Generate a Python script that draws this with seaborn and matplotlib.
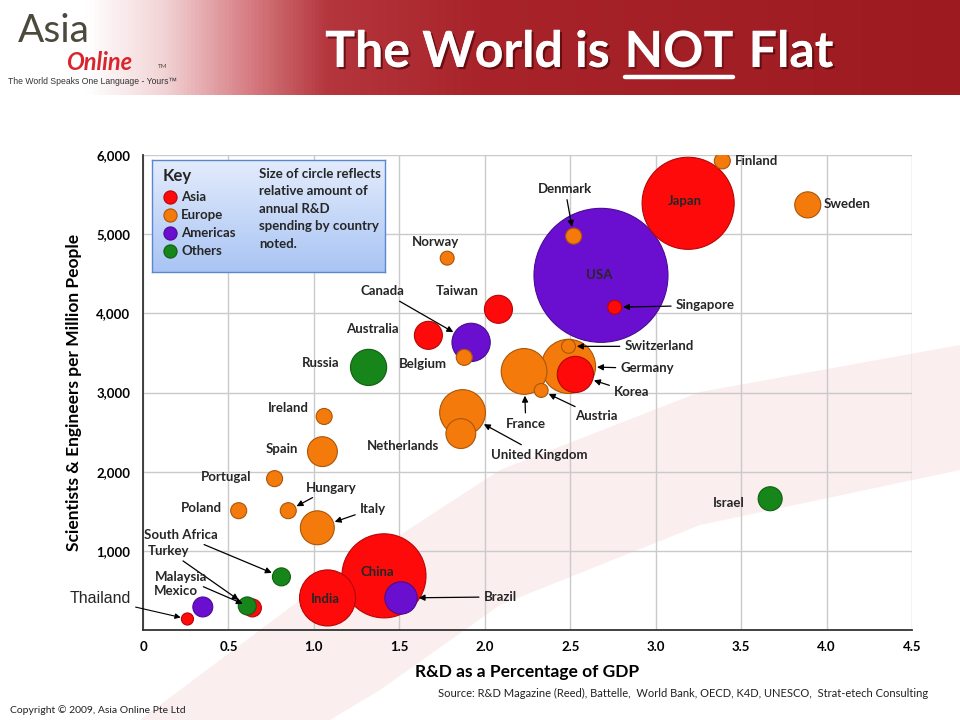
import matplotlib
matplotlib.use("Agg")
import matplotlib.pyplot as plt
import matplotlib.patheffects as pe
import numpy as np
import pandas as pd
import seaborn as sns
from matplotlib.colors import LinearSegmentedColormap
from matplotlib.lines import Line2D
from matplotlib.patches import Polygon

# ---- data ----
countries = ["USA", "Japan", "China", "India", "Germany", "France", "United Kingdom",
             "Canada", "Korea", "Russia", "Italy", "Brazil", "Netherlands", "Spain",
             "Taiwan", "Australia", "Sweden", "Israel", "Mexico", "Malaysia", "Turkey",
             "South Africa", "Finland", "Denmark", "Belgium", "Ireland", "Portugal",
             "Hungary", "Poland", "Singapore", "Switzerland", "Austria", "Norway", "Thailand"]
regions = ["Americas", "Asia", "Asia", "Asia", "Europe", "Europe", "Europe",
           "Americas", "Asia", "Others", "Europe", "Americas", "Europe", "Europe",
           "Asia", "Asia", "Europe", "Others", "Americas", "Asia", "Others",
           "Others", "Europe", "Europe", "Europe", "Europe", "Europe",
           "Europe", "Europe", "Asia", "Europe", "Europe", "Europe", "Asia"]
rd_pct_gdp = [2.68, 3.19, 1.41, 1.08, 2.49, 2.23, 1.87,
              1.92, 2.53, 1.32, 1.02, 1.51, 1.86, 1.05,
              2.08, 1.67, 3.89, 3.67, 0.35, 0.64, 0.61,
              0.81, 3.39, 2.52, 1.88, 1.06, 0.77,
              0.85, 0.56, 2.76, 2.49, 2.33, 1.78, 0.26]
sci_per_million = [4480, 5390, 684, 405, 3330, 3266, 2747,
                   3633, 3228, 3317, 1291, 405, 2481, 2253,
                   4051, 3722, 5370, 1658, 291, 279, 304,
                   671, 5925, 4975, 3444, 2697, 1912,
                   1507, 1507, 4077, 3583, 3026, 4697, 139]
rd_spend = [343, 162, 135, 60, 56, 40, 40,
            28, 25, 25, 22, 20, 17, 17,
            15, 15, 13, 11, 7.6, 6.2, 6.2,
            6.2, 4.9, 4.9, 4.9, 4.9, 4.9,
            4.9, 4.9, 3.7, 3.7, 3.7, 3.7, 2.8]

region_names = ["Asia", "Europe", "Americas", "Others"]
region_colors = ["#ff0a0a", "#f57a0c", "#6a0fd0", "#17861a"]

x_ticks = [0, 0.5, 1.0, 1.5, 2.0, 2.5, 3.0, 3.5, 4.0, 4.5]
y_ticks = [1000, 2000, 3000, 4000, 5000, 6000]

# label layout: (country, text, x, y, arrow)
LABELS = [
    ("Finland", "Finland", 3.59, 5925, False),
    ("Sweden", "Sweden", 4.12, 5380, False),
    ("Japan", "Japan", 3.17, 5420, False),
    ("USA", "USA", 2.67, 4482, False),
    ("Denmark", "Denmark", 2.47, 5570, True),
    ("Singapore", "Singapore", 3.29, 4100, True),
    ("Norway", "Norway", 1.71, 4899, False),
    ("Taiwan", "Taiwan", 1.84, 4279, False),
    ("Canada", "Canada", 1.40, 4279, True),
    ("Australia", "Australia", 1.345, 3798, False),
    ("Belgium", "Belgium", 1.64, 3355, False),
    ("Russia", "Russia", 1.04, 3368, False),
    ("Switzerland", "Switzerland", 3.02, 3583, True),
    ("Germany", "Germany", 2.95, 3304, True),
    ("Korea", "Korea", 2.86, 3000, True),
    ("Austria", "Austria", 2.65, 2697, True),
    ("France", "France", 2.24, 2608, True),
    ("United Kingdom", "United Kingdom", 2.32, 2215, True),
    ("Netherlands", "Netherlands", 1.52, 2329, False),
    ("Ireland", "Ireland", 0.85, 2798, False),
    ("Spain", "Spain", 0.81, 2291, False),
    ("Portugal", "Portugal", 0.485, 1937, False),
    ("Hungary", "Hungary", 1.10, 1798, True),
    ("Poland", "Poland", 0.34, 1545, False),
    ("Italy", "Italy", 1.345, 1532, True),
    ("China", "China", 1.37, 734, False),
    ("India", "India", 1.07, 392, False),
    ("Brazil", "Brazil", 2.09, 418, True),
    ("Israel", "Israel", 3.43, 1608, False),
    ("South Africa", "South Africa", 0.22, 1203, True),
    ("Turkey", "Turkey", 0.15, 1000, True),
    ("Malaysia", "Malaysia", 0.22, 671, True),
    ("Mexico", "Mexico", 0.19, 494, False),
]

W, H = 960, 720


def fx(px):
    return px / W


def fy(py):
    return 1 - py / H


sns.set_theme(style="whitegrid")
plt.rcParams["font.family"] = ["Lato", "DejaVu Sans"]

df = pd.DataFrame({"country": countries, "region": regions, "pct": rd_pct_gdp,
                   "sci": sci_per_million, "spend": rd_spend})
palette = dict(zip(region_names, region_colors))

fig = plt.figure(figsize=(9.6, 7.2), dpi=100)
fig.patch.set_facecolor("white")

# faint background swoosh, kept behind the axes
band = [(140, 720), (300, 600), (500, 470), (700, 392), (960, 345),
        (960, 470), (700, 525), (500, 605), (380, 690), (330, 720)]
fig.patches.append(Polygon([(fx(a), fy(b)) for a, b in band], closed=True,
                           transform=fig.transFigure, facecolor="#fbeeee",
                           edgecolor="none", zorder=-5))

# header banner
hdr = fig.add_axes([0, fy(95), 1, 95 / H])
cmap = LinearSegmentedColormap.from_list(
    "hdr", [(0, "#ffffff"), (0.09, "#ffffff"), (0.17, "#f2d3d5"), (0.25, "#d9858a"),
            (0.34, "#b5363d"), (0.5, "#a8242a"), (1, "#9c1a20")])
hdr.imshow(np.linspace(0, 1, 512)[None, :], aspect="auto", cmap=cmap, extent=[0, 1, 0, 1])
hdr.axis("off")

fig.text(fx(18), fy(42), "Asia", fontsize=28, color="#4b4a3c", ha="left", va="baseline")
fig.text(fx(66), fy(70), "Online", fontsize=17, color="#d8262c", style="italic",
         fontweight="bold", ha="left", va="baseline")
fig.text(fx(158), fy(68), "TM", fontsize=4.5, color="#4b4a3c", ha="left", va="baseline")
fig.text(fx(8), fy(84), "The World Speaks One Language - Yours\u2122", fontsize=6.2,
         color="#333333", family=["Liberation Sans", "DejaVu Sans"], ha="left", va="baseline")

shadow = [pe.SimplePatchShadow(offset=(1.5, -1.5), shadow_rgbFace="#4a0508", alpha=0.45),
          pe.Normal()]
t_not = fig.text(fx(679), fy(67), "NOT", fontsize=36, fontweight="bold", color="white",
                 ha="center", va="baseline", path_effects=shadow)
left = plt.annotate("The World is", xy=(0, 0), xycoords=t_not, xytext=(-11, 0),
                    textcoords="offset points", ha="right", va="bottom", fontsize=36,
                    fontweight="bold", color="white", path_effects=shadow,
                    annotation_clip=False)
fig.texts.append(left)
right = plt.annotate("Flat", xy=(1, 0), xycoords=t_not, xytext=(11, 0),
                     textcoords="offset points", ha="left", va="bottom", fontsize=36,
                     fontweight="bold", color="white", path_effects=shadow,
                     annotation_clip=False)
fig.texts.append(right)

# main plot
ax = fig.add_axes([fx(143), fy(630), (912 - 143) / W, (630 - 155) / H])
ax.set_facecolor("none")
s_max = (2 * 67 * 0.72) ** 2
sns.scatterplot(data=df, x="pct", y="sci", hue="region", hue_order=region_names,
                palette=palette, size="spend", sizes=(0, s_max), size_norm=(0, max(rd_spend)),
                legend=False, linewidth=0.8, zorder=3, ax=ax)
coll = ax.collections[0]
fc = coll.get_facecolors()
ec = fc.copy()
ec[:, :3] *= 0.7
coll.set_edgecolors(ec)

ax.set_xlim(0, 4.5)
ax.set_ylim(0, 6000)
ax.set_xticks(x_ticks)
ax.set_xticklabels(["0"] + [f"{v:.1f}" for v in x_ticks[1:]])
ax.set_yticks(y_ticks)
ax.set_yticklabels([f"{v:,}" for v in y_ticks])
ax.grid(True, color="#cacaca", lw=1)
for side in ["top", "right"]:
    ax.spines[side].set_visible(False)
for side in ["left", "bottom"]:
    ax.spines[side].set_color("#333333")
    ax.spines[side].set_linewidth(1.3)
    ax.spines[side].set_zorder(2.5)
ax.tick_params(axis="y", direction="out", length=6, width=1, color="#bdbdbd",
               labelsize=9.5, pad=3)
ax.tick_params(axis="x", length=0, labelsize=9.5, pad=8)
for lab in ax.get_xticklabels() + ax.get_yticklabels():
    lab.set_fontweight("bold")
    lab.set_color("black")
ax.set_xlabel("R&D as a Percentage of GDP", fontsize=12.5, fontweight="bold",
              color="black", labelpad=8)
ax.set_ylabel("Scientists & Engineers per Million People", fontsize=12.5,
              fontweight="bold", color="black", labelpad=10)

lookup = df.set_index("country")
for name, text, lx, ly, arrow in LABELS:
    row = lookup.loc[name]
    if arrow:
        r_pt = np.sqrt(row["spend"] / max(rd_spend) * s_max) / 2
        ax.annotate(text, xy=(row["pct"], row["sci"]), xytext=(lx, ly),
                    ha="center", va="center", fontsize=9.5, fontweight="bold",
                    annotation_clip=False, zorder=5,
                    arrowprops=dict(arrowstyle="-|>", color="black", lw=0.9,
                                    shrinkA=1, shrinkB=r_pt + 1, mutation_scale=9))
    else:
        ax.text(lx, ly, text, ha="center", va="center", fontsize=9.5,
                fontweight="bold", zorder=5)

thai = lookup.loc["Thailand"]
ax.annotate("Thailand", xy=(thai["pct"], thai["sci"]), xytext=(-0.25, 392),
            ha="center", va="center", fontsize=11.5,
            family=["Liberation Sans", "DejaVu Sans"], annotation_clip=False, zorder=5,
            arrowprops=dict(arrowstyle="-|>", color="black", lw=0.8, shrinkA=1,
                            shrinkB=5, mutation_scale=8))

# key box
kax = fig.add_axes([fx(152), fy(272), 233 / W, 112 / H])
kcmap = LinearSegmentedColormap.from_list("key", ["#a9c4f4", "#e3ecfc"])
kax.imshow(np.linspace(0, 1, 256)[:, None], aspect="auto", cmap=kcmap,
           origin="lower", extent=[0, 1, 0, 1])
kax.set_xlim(0, 1)
kax.set_ylim(0, 1)
kax.set_xticks([])
kax.set_yticks([])
kax.grid(False)
for sp in kax.spines.values():
    sp.set_color("#5a88cf")
    sp.set_linewidth(1)
kax.text(0.047, 0.86, "Key", fontsize=12, fontweight="bold", va="center", ha="left")
for i, (nm, col) in enumerate(zip(region_names, region_colors)):
    yy = 1 - (197 + 18 * i - 160) / 112
    kax.scatter([0.077], [yy], s=90, color=col, edgecolor=tuple(c * 0.7 for c in
                matplotlib.colors.to_rgb(col)), lw=0.8, zorder=3)
    kax.text(0.125, yy, nm, fontsize=9.5, fontweight="bold", va="center", ha="left")
kax.text(0.459, 0.93, "Size of circle reflects\nrelative amount of\nannual R&D\n"
         "spending by country\nnoted.", fontsize=9.5, fontweight="bold", va="top",
         ha="left", linespacing=1.55)

# footer
fig.text(fx(10), fy(710), "Copyright \u00a9 2009, Asia Online Pte Ltd", fontsize=7.5,
         color="#222222", ha="left", va="center")
fig.text(fx(928), fy(693), "Source: R&D Magazine (Reed), Battelle,  World Bank, OECD, "
         "K4D, UNESCO,  Strat-etech Consulting", fontsize=8, color="#222222",
         ha="right", va="center")

# underline under NOT
fig.canvas.draw()
bb = t_not.get_window_extent()
y_ul = fy(77)
fig.add_artist(Line2D([bb.x0 / W, bb.x1 / W], [y_ul, y_ul], color="white", lw=3.2,
                      transform=fig.transFigure, path_effects=shadow))

fig.savefig("out.png", dpi=100)
